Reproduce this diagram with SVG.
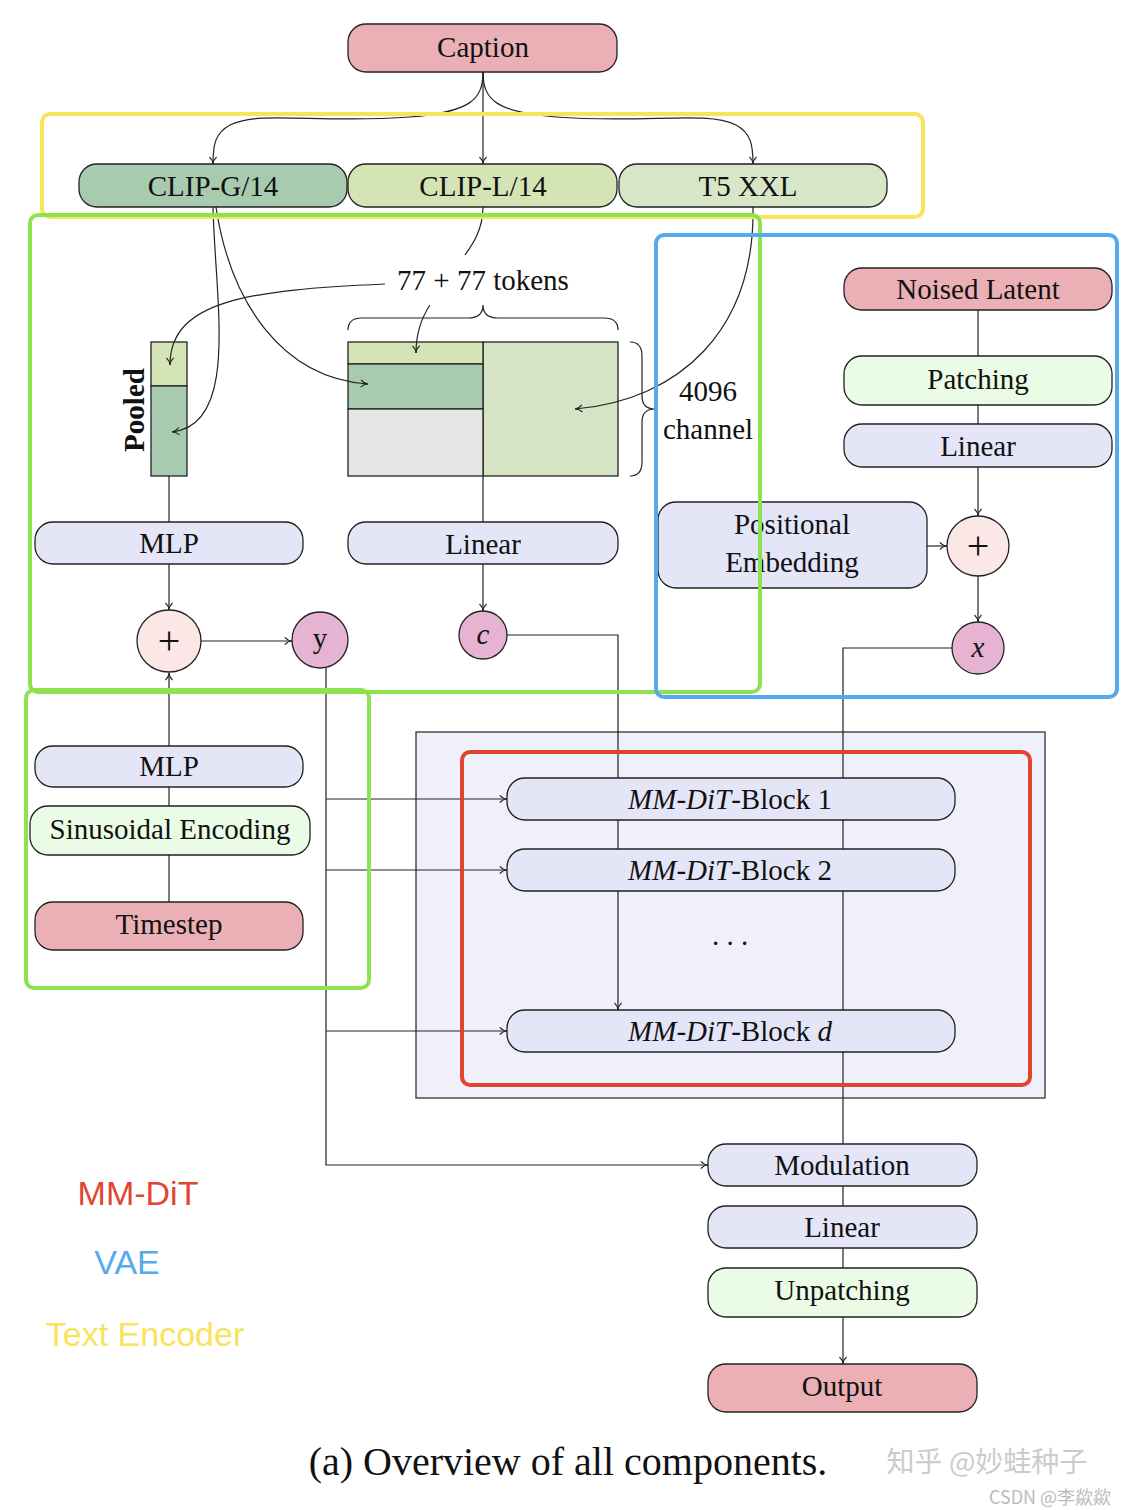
<svg xmlns="http://www.w3.org/2000/svg" width="1138" height="1510" viewBox="0 0 1138 1510">
<style>
.n{stroke:#222;stroke-width:1.3}
.t{font-family:"Liberation Serif",serif;font-size:29px;fill:#111;text-anchor:middle}
.p{font-family:"Liberation Serif",serif;font-size:40px;fill:#111;text-anchor:middle}
.c path,.c line,.c polyline{fill:none;stroke:#222;stroke-width:1.2}
.pk{fill:#ebb0b5}.lv{fill:#e5e5f8}.lg{fill:#eafbe6}
.g{fill:none;stroke-width:4}
.leg{font-family:"Liberation Sans",sans-serif;font-size:34px;text-anchor:middle}
</style>
<defs><marker id="a" viewBox="0 0 10 10" refX="9" refY="5" markerWidth="9" markerHeight="9" orient="auto" markerUnits="userSpaceOnUse"><path d="M1,1 Q5,5 9,5 Q5,5 1,9" fill="none" stroke="#222" stroke-width="1.2"/></marker></defs>
<rect x="0" y="0" width="1138" height="1510" fill="#fff"/>
<rect x="416" y="732" width="629" height="366" fill="#f0f0fb" stroke="#333" stroke-width="1.3"/>
<g id="caption"><rect class="n pk" x="348" y="24" width="269" height="48" rx="18"/><text class="t" x="483" y="57">Caption</text></g>
<g id="clipg"><rect class="n" fill="#a8cbb0" x="79" y="164" width="268" height="43" rx="18"/><text class="t" x="213" y="196">CLIP-G/14</text></g>
<g id="clipl"><rect class="n" fill="#d5e4b5" x="348" y="164" width="269" height="43" rx="18"/><text class="t" x="483" y="196">CLIP-L/14</text></g>
<g id="t5"><rect class="n" fill="#d8e6c8" x="619" y="164" width="268" height="43" rx="18"/><text class="t" x="748" y="196">T5 XXL</text></g>
<g id="pooled"><rect fill="#d5e4b5" class="n" x="151" y="342" width="36" height="44"/><rect fill="#a8cbb0" class="n" x="151" y="386" width="36" height="90"/><text class="t" transform="translate(144,410) rotate(-90)" font-weight="bold">Pooled</text></g>
<g id="matrix"><rect fill="#d5e4c5" class="n" x="483" y="342" width="135" height="134"/><rect fill="#d5e4b5" class="n" x="348" y="342" width="135" height="22"/><rect fill="#a8cbb0" class="n" x="348" y="364" width="135" height="45"/><rect fill="#e6e6e6" class="n" x="348" y="409" width="135" height="67"/>
<path d="M348,330 Q348,318 362,318 L468,318 Q483,318 483,305 Q483,318 498,318 L604,318 Q618,318 618,330" fill="none" stroke="#222" stroke-width="1.2"/>
<path d="M630,342 Q642,342 642,356 L642,396 Q642,409 655,409 Q642,409 642,422 L642,462 Q642,476 630,476" fill="none" stroke="#222" stroke-width="1.2"/>
<text class="t" x="483" y="290">77 + 77 tokens</text><text class="t" x="708" y="401">4096</text><text class="t" x="708" y="439">channel</text></g>
<g id="noised"><rect class="n pk" x="844" y="268" width="268" height="42" rx="18"/><text class="t" x="978" y="299">Noised Latent</text></g>
<g id="patching"><rect class="n lg" x="844" y="356" width="268" height="49" rx="18"/><text class="t" x="978" y="389">Patching</text></g>
<g id="linear1"><rect class="n lv" x="844" y="424" width="268" height="43" rx="18"/><text class="t" x="978" y="456">Linear</text></g>
<g id="posemb"><rect class="n lv" x="658" y="502" width="269" height="86" rx="18"/><text class="t" x="792" y="534">Positional</text><text class="t" x="792" y="572">Embedding</text></g>
<g id="plus2"><ellipse class="n" fill="#fbe7e5" cx="978" cy="546" rx="31" ry="30"/><text class="p" x="978" y="559">+</text></g>
<g id="xnode"><circle class="n" fill="#e6b3d3" cx="978" cy="648" r="26"/><text class="t" x="978" y="657" font-style="italic">x</text></g>
<g id="mlp1"><rect class="n lv" x="35" y="522" width="268" height="42" rx="18"/><text class="t" x="169" y="553">MLP</text></g>
<g id="linear2"><rect class="n lv" x="348" y="522" width="270" height="42" rx="18"/><text class="t" x="483" y="554">Linear</text></g>
<g id="plus1"><ellipse class="n" fill="#fbe7e5" cx="169" cy="641" rx="32" ry="31"/><text class="p" x="169" y="654">+</text></g>
<g id="ynode"><circle class="n" fill="#e6b3d3" cx="320" cy="640" r="28"/><text class="t" x="320" y="648">y</text></g>
<g id="cnode"><circle class="n" fill="#e6b3d3" cx="483" cy="635" r="24"/><text class="t" x="483" y="644" font-style="italic">c</text></g>
<g id="mlp2"><rect class="n lv" x="35" y="746" width="268" height="41" rx="18"/><text class="t" x="169" y="776">MLP</text></g>
<g id="sinus"><rect class="n lg" x="30" y="806" width="280" height="49" rx="18"/><text class="t" x="170" y="839">Sinusoidal Encoding</text></g>
<g id="timestep"><rect class="n pk" x="35" y="902" width="268" height="48" rx="18"/><text class="t" x="169" y="934">Timestep</text></g>
<g id="block1"><rect class="n lv" x="507" y="778" width="448" height="42" rx="18"/><text class="t" x="730" y="809"><tspan font-style="italic">MM-DiT</tspan>-Block 1</text></g>
<g id="block2"><rect class="n lv" x="507" y="849" width="448" height="42" rx="18"/><text class="t" x="730" y="880"><tspan font-style="italic">MM-DiT</tspan>-Block 2</text></g>
<g id="dots"><text class="t" x="730" y="945">. . .</text></g>
<g id="blockd"><rect class="n lv" x="507" y="1010" width="448" height="42" rx="18"/><text class="t" x="730" y="1041"><tspan font-style="italic">MM-DiT</tspan>-Block <tspan font-style="italic">d</tspan></text></g>
<g id="modulation"><rect class="n lv" x="708" y="1144" width="269" height="42" rx="18"/><text class="t" x="842" y="1175">Modulation</text></g>
<g id="linear3"><rect class="n lv" x="708" y="1206" width="269" height="42" rx="18"/><text class="t" x="842" y="1237">Linear</text></g>
<g id="unpatching"><rect class="n lg" x="708" y="1268" width="269" height="49" rx="18"/><text class="t" x="842" y="1300">Unpatching</text></g>
<g id="output"><rect class="n pk" x="708" y="1364" width="269" height="48" rx="18"/><text class="t" x="842" y="1396">Output</text></g>
<g class="c" id="connectors">
<line x1="483" y1="72" x2="483" y2="164" marker-end="url(#a)"/>
<path d="M483,72 C483,100 470,112 410,117 C320,124 260,110 230,125 C215,133 213,145 213,164" marker-end="url(#a)"/>
<path d="M483,72 C483,100 496,112 556,117 C646,124 706,110 736,125 C751,133 753,145 753,164" marker-end="url(#a)"/>
<path d="M213,207 C215,300 240,425 172,432" marker-end="url(#a)"/>
<path d="M216,207 C230,300 280,378 368,384" marker-end="url(#a)"/>
<path d="M483,207 C483,230 472,245 465,255"/>
<path d="M385,284 C250,290 170,300 170,365" marker-end="url(#a)"/>
<path d="M430,305 C420,320 416,335 416,353" marker-end="url(#a)"/>
<path d="M753,207 C755,330 680,400 575,409" marker-end="url(#a)"/>
<line x1="169" y1="476" x2="169" y2="522"/>
<line x1="169" y1="564" x2="169" y2="610" marker-end="url(#a)"/>
<line x1="201" y1="641" x2="292" y2="641" marker-end="url(#a)"/>
<line x1="169" y1="746" x2="169" y2="673" marker-end="url(#a)"/>
<line x1="169" y1="787" x2="169" y2="806"/>
<line x1="169" y1="855" x2="169" y2="902"/>
<line x1="483" y1="476" x2="483" y2="522"/>
<line x1="483" y1="564" x2="483" y2="611" marker-end="url(#a)"/>
<polyline points="507,635 618,635 618,778"/>
<line x1="618" y1="820" x2="618" y2="849"/>
<line x1="618" y1="891" x2="618" y2="1010" marker-end="url(#a)"/>
<polyline points="952,648 843,648 843,778"/>
<line x1="843" y1="820" x2="843" y2="849"/>
<line x1="843" y1="891" x2="843" y2="1010"/>
<line x1="843" y1="1052" x2="843" y2="1144"/>
<line x1="843" y1="1186" x2="843" y2="1206"/>
<line x1="843" y1="1248" x2="843" y2="1268"/>
<line x1="843" y1="1317" x2="843" y2="1364" marker-end="url(#a)"/>
<polyline points="326,668 326,1165 708,1165" marker-end="url(#a)"/>
<line x1="326" y1="799" x2="507" y2="799" marker-end="url(#a)"/>
<line x1="326" y1="870" x2="507" y2="870" marker-end="url(#a)"/>
<line x1="326" y1="1031" x2="507" y2="1031" marker-end="url(#a)"/>
<line x1="978" y1="310" x2="978" y2="356"/>
<line x1="978" y1="405" x2="978" y2="424"/>
<line x1="978" y1="467" x2="978" y2="516" marker-end="url(#a)"/>
<line x1="927" y1="546" x2="947" y2="546" marker-end="url(#a)"/>
<line x1="978" y1="576" x2="978" y2="622" marker-end="url(#a)"/>
</g>
<g id="groups">
<rect class="g" stroke="#f8e45a" x="42" y="114" width="881" height="103" rx="8"/>
<rect class="g" stroke="#8fe24f" x="30" y="215" width="730" height="477" rx="8"/>
<rect class="g" stroke="#8fe24f" x="26" y="690" width="343" height="298" rx="8"/>
<rect class="g" stroke="#55aaee" x="656" y="235" width="461" height="462" rx="8"/>
<rect class="g" stroke="#e04530" x="462" y="752" width="568" height="333" rx="8"/>
</g>
<g id="legend">
<text class="leg" x="138" y="1205" fill="#e04530">MM-DiT</text>
<text class="leg" x="127" y="1274" fill="#55aaee">VAE</text>
<text class="leg" x="145" y="1346" fill="#f8e45a">Text Encoder</text>
</g>
<text x="568" y="1475" font-family="Liberation Serif,serif" font-size="40" text-anchor="middle" fill="#111">(a) Overview of all components.</text>
<text x="987" y="1472" font-family="Noto Sans CJK SC,sans-serif" font-size="28" text-anchor="middle" fill="#ccc">知乎 @妙蛙种子</text>
<text x="1050" y="1504" font-family="Noto Sans CJK SC,sans-serif" font-size="18" text-anchor="middle" fill="#bbb">CSDN @李歘歘</text>
</svg>
